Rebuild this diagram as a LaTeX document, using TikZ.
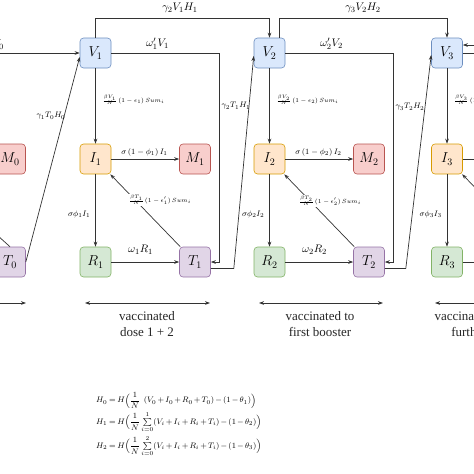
\documentclass[tikz,border=0pt]{standalone}
\usepackage{amsmath}
\usepackage{fontspec}
\setmainfont{Liberation Serif}
\usetikzlibrary{arrows.meta}

\definecolor{vfill}{HTML}{DAE8FC}\definecolor{vline}{HTML}{6C8EBF}
\definecolor{ifill}{HTML}{FFE6CC}\definecolor{iline}{HTML}{D79B00}
\definecolor{mfill}{HTML}{F8CECC}\definecolor{mline}{HTML}{B85450}
\definecolor{rfill}{HTML}{D5E8D4}\definecolor{rline}{HTML}{82B366}
\definecolor{tfill}{HTML}{E1D5E7}\definecolor{tline}{HTML}{9673A6}

\begin{document}
\begin{tikzpicture}[
  x=1pt, y=-1pt,
  >={Stealth[length=5pt,width=3.6pt]},
  comp/.style={rectangle, rounded corners=3.5pt, line width=0.6pt,
               minimum width=31pt, minimum height=30pt, inner sep=0pt,
               font=\fontsize{14.4}{16}\selectfont},
  vcomp/.style={comp, fill=vfill, draw=vline},
  icomp/.style={comp, fill=ifill, draw=iline},
  mcomp/.style={comp, fill=mfill, draw=mline},
  rcomp/.style={comp, fill=rfill, draw=rline},
  tcomp/.style={comp, fill=tfill, draw=tline},
  flow/.style={->, draw=black!80, line width=0.7pt},
  band/.style={<->, draw=black!80, line width=0.7pt},
  rbig/.style={font=\fontsize{10.95}{13}\selectfont, inner sep=1pt},
  rmid/.style={font=\fontsize{8}{9}\selectfont, inner sep=1pt},
  rsmall/.style={font=\fontsize{6}{7}\selectfont, inner sep=0.8pt},
  era/.style={font=\fontsize{13}{16}\selectfont, align=center, text=black!85},
  eqn/.style={font=\fontsize{8}{9}\selectfont, inner sep=0pt}
]
\path[use as bounding box] (0,0) rectangle (474,474);
\clip (0,0) rectangle (474,474);

% ---- compartments ----
\foreach \k/\xc in {1/95.5, 2/269.5, 3/447} {
  \node[vcomp] (V\k) at (\xc,53)  {$V_{\k}$};
  \node[icomp] (I\k) at (\xc,159) {$I_{\k}$};
  \node[rcomp] (R\k) at (\xc,262) {$R_{\k}$};
}
\foreach \k/\xc in {0/10, 1/195, 2/369} {
  \node[mcomp] (M\k) at (\xc,159) {$M_{\k}$};
  \node[tcomp] (T\k) at (\xc,262) {$T_{\k}$};
}

% free ends (compartments outside the frame)
\coordinate (S0) at (-20,53);
\coordinate (I0) at (-62,182);
\coordinate (M3) at (490,159);
\coordinate (T3) at (533,246);
\coordinate (T3in) at (490,262);
\coordinate (V3out) at (490,53);
\coordinate (V4in) at (490,45);

% ---- flows inside each column ----
\foreach \k/\xc in {1/95.5, 2/269.5, 3/447} {
  \draw[flow] (V\k) -- (I\k);
  \draw[flow] (I\k) -- (R\k);
  \node[rsmall, anchor=west] (inf\k) at (\xc+6,100)
    {$\frac{\beta V_{\k}}{N}\,(1-\epsilon_{\k})\,Sum_i$};
  \node[rmid, anchor=east] (rec\k) at (\xc-4,214) {$\sigma\phi_{\k}I_{\k}$};
}
\foreach \k/\xc in {1/95.5, 2/269.5} {
  \draw[flow] (I\k) -- (M\k);
  \draw[flow] (R\k) -- (T\k);
  \draw[flow] (T\k) -- (I\k);
  \draw[flow] (V\k.east) -- ++(108,0) |- (T\k.east);
  \node[rmid] (die\k) at (\xc+49,152) {$\sigma\,(1-\phi_{\k})\,I_{\k}$};
  \node[rbig] (wan\k) at (\xc+45,250) {$\omega_{\k}R_{\k}$};
  \node[rbig] (vwan\k) at (\xc+62,44) {$\omega'_{\k}V_{\k}$};
}
\node[rsmall, fill=white] (reinf1) at (160,200)
  {$\frac{\beta T_1}{N}\,(1-\epsilon'_1)\,Sum_i$};
\node[rsmall, fill=white] (reinf2) at (330,201)
  {$\frac{\beta T_2}{N}\,(1-\epsilon'_2)\,Sum_i$};

% ---- flows leaving the frame ----
\draw[flow] (S0) -- (V1.west);
\node[rbig, anchor=east] (vwan0) at (5,45) {$\omega'_0V_0$};
\draw[flow] (T0.north) -- (I0);
\draw[flow] (I3) -- (M3);
\draw[flow] (R3) -- (T3in);
\draw[flow] (T3) -- (I3);
\draw[flow] (V3.east) -- (V3out);
\draw[flow] (V4in) -- ([yshift=8pt]V3.east);

% ---- boosting: T_k -> V_{k+1} and V_k -> V_{k+1} ----
\draw[flow] (T0.east) -- ([yshift=-4pt]V1.west);
\draw[flow] ([yshift=-6.5pt]T1.east) -- ++(23,0) -- ([yshift=-3pt]V2.west);
\draw[flow] ([yshift=-6.5pt]T2.east) -- ++(21,0) -- ([yshift=-2pt]V3.west);
\node[rmid] (boostT0) at (51,116) {$\gamma_1T_0H_0$};
\node[rmid] (boostT1) at (236,106) {$\gamma_2T_1H_1$};
\node[rmid] (boostT2) at (410,107) {$\gamma_3T_2H_2$};

\draw[flow] (V1.north) -- ++(0,-19) -| (V2.north);
\draw[flow] ([xshift=9.5pt]V2.north) -- ++(0,-19) -| (V3.north);
\node[rbig] (boostV1) at (180,8) {$\gamma_2V_1H_1$};
\node[rbig] (boostV2) at (363,8) {$\gamma_3V_2H_2$};

% ---- vaccination stages ----
\foreach \a/\b [count=\n] in {-150/26, 85/210, 259/383, 435/560} {
  \coordinate (bandL\n) at (\a,303);
  \coordinate (bandR\n) at (\b,303);
  \draw[band] (bandL\n) -- (bandR\n);
}
\node[era] (era2) at (147,324) {vaccinated\\dose 1 + 2};
\node[era] (era3) at (320,324) {vaccinated to\\first booster};
\node[era] (era4) at (469,324) {vaccinated to\\further};

% ---- thresholds ----
\node[eqn, anchor=north west] (hdefs) at (96,392)
  {\setlength{\jot}{0pt}\medmuskip=2.5mu\thickmuskip=3.5mu$\begin{aligned}
  H_0 &= H\Bigl(\frac{1}{N}\enspace(V_0+I_0+R_0+T_0)-(1-\theta_1)\Bigr)\\[2pt]
  H_1 &= H\Bigl(\frac{1}{N}\textstyle\sum\limits_{i=0}^{1}(V_i+I_i+R_i+T_i)-(1-\theta_2)\Bigr)\\[2pt]
  H_2 &= H\Bigl(\frac{1}{N}\textstyle\sum\limits_{i=0}^{2}(V_i+I_i+R_i+T_i)-(1-\theta_3)\Bigr)
\end{aligned}$};

\end{tikzpicture}
\end{document}
